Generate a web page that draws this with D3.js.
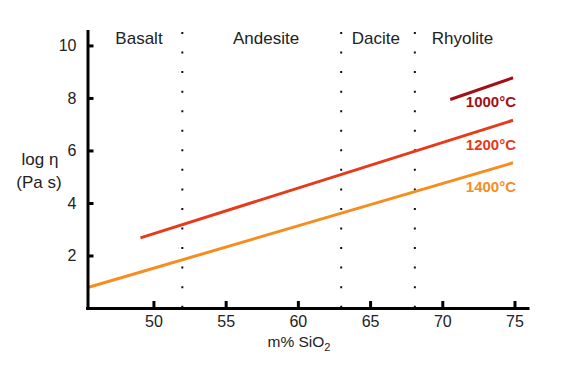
<!DOCTYPE html>
<html><head><meta charset="utf-8">
<script src="https://cdn.jsdelivr.net/npm/d3@7"></script>
<style>
body{margin:0;background:#fff;}
text{font-family:"Liberation Sans",Arial,sans-serif;fill:#222;}
</style></head>
<body><svg id="c" width="564" height="365"></svg>
<script>
// Data
const temperatures = ["1000°C", "1200°C", "1400°C"];
const seriesColors = ["#a30f14", "#e63b1a", "#f68d1f"];
const startSiO2 = [70.55, 49.1, 45.4];
const startLogEta = [7.94, 2.67, 0.77];
const endSiO2 = [74.9, 74.9, 74.9];
const endLogEta = [8.77, 7.15, 5.53];
const rockTypes = ["Basalt", "Andesite", "Dacite", "Rhyolite"];
const rockLabelSiO2 = [49.0, 57.8, 65.4, 71.4];
const boundaries = [52, 63, 68.1];
const xTicks = [50, 55, 60, 65, 70, 75];
const yTicks = [2, 4, 6, 8, 10];

const svg = d3.select("#c");
const x = d3.scaleLinear().domain([45.4, 75.9]).range([87, 527.5]);
const y = d3.scaleLinear().domain([0, 10.55]).range([308, 31]);

// boundaries (dotted)
svg.append("g").selectAll("line").data(boundaries).join("line")
  .attr("x1", d => x(d)).attr("x2", d => x(d))
  .attr("y1", 32).attr("y2", 309)
  .attr("stroke", "#111").attr("stroke-width", 2)
  .attr("stroke-dasharray", "2,17.55");

// rock labels
svg.append("g").selectAll("text").data(rockTypes).join("text")
  .attr("x", (d, i) => x(rockLabelSiO2[i])).attr("y", 43.5)
  .attr("text-anchor", "middle").attr("font-size", 17).text(d => d);

// series lines
const series = temperatures.map((t, i) => ({
  t, color: seriesColors[i],
  pts: [[startSiO2[i], startLogEta[i]], [endSiO2[i], endLogEta[i]]]
}));
const line = d3.line().x(d => x(d[0])).y(d => y(d[1]));
svg.append("g").selectAll("path").data(series).join("path")
  .attr("d", d => line(d.pts)).attr("fill", "none")
  .attr("stroke", d => d.color).attr("stroke-width", 3);

svg.append("g").selectAll("text").data(series).join("text")
  .attr("x", d => x(d.pts[1][0]) + 3)
  .attr("y", d => y(d.pts[1][1]) + 29.5)
  .attr("text-anchor", "end").attr("font-size", 15).attr("font-weight", "bold")
  .style("fill", d => d.color).text(d => d.t);

// axes
const xAxis = d3.axisBottom(x).tickValues(xTicks).tickSizeInner(-7).tickSizeOuter(0).tickPadding(7.3);
const gx = svg.append("g").attr("transform", "translate(0,308)").call(xAxis);
const yAxis = d3.axisLeft(y).tickValues(yTicks).tickSizeInner(-6).tickSizeOuter(0).tickPadding(11);
const gy = svg.append("g").attr("transform", "translate(87.5,0)").call(yAxis);
[gx, gy].forEach(g => {
  g.select(".domain").attr("stroke", "#000").attr("stroke-width", 3).attr("stroke-linecap", "square");
  g.selectAll(".tick line").attr("stroke", "#000").attr("stroke-width", 3);
  g.selectAll(".tick text").attr("font-size", 16).style("fill", "#222")
    .attr("font-family", "Liberation Sans, Arial, sans-serif");
});

// axis titles
const yt = svg.append("text").attr("text-anchor", "middle").attr("font-size", 17);
yt.append("tspan").attr("x", 40).attr("y", 165).text("log η");
yt.append("tspan").attr("x", 39).attr("y", 188).text("(Pa s)");

const xt = svg.append("text").attr("x", 299).attr("y", 347).attr("text-anchor", "middle").attr("font-size", 15.5);
xt.append("tspan").text("m% SiO");
xt.append("tspan").attr("font-size", 11).attr("dy", 4).text("2");
</script></body></html>
